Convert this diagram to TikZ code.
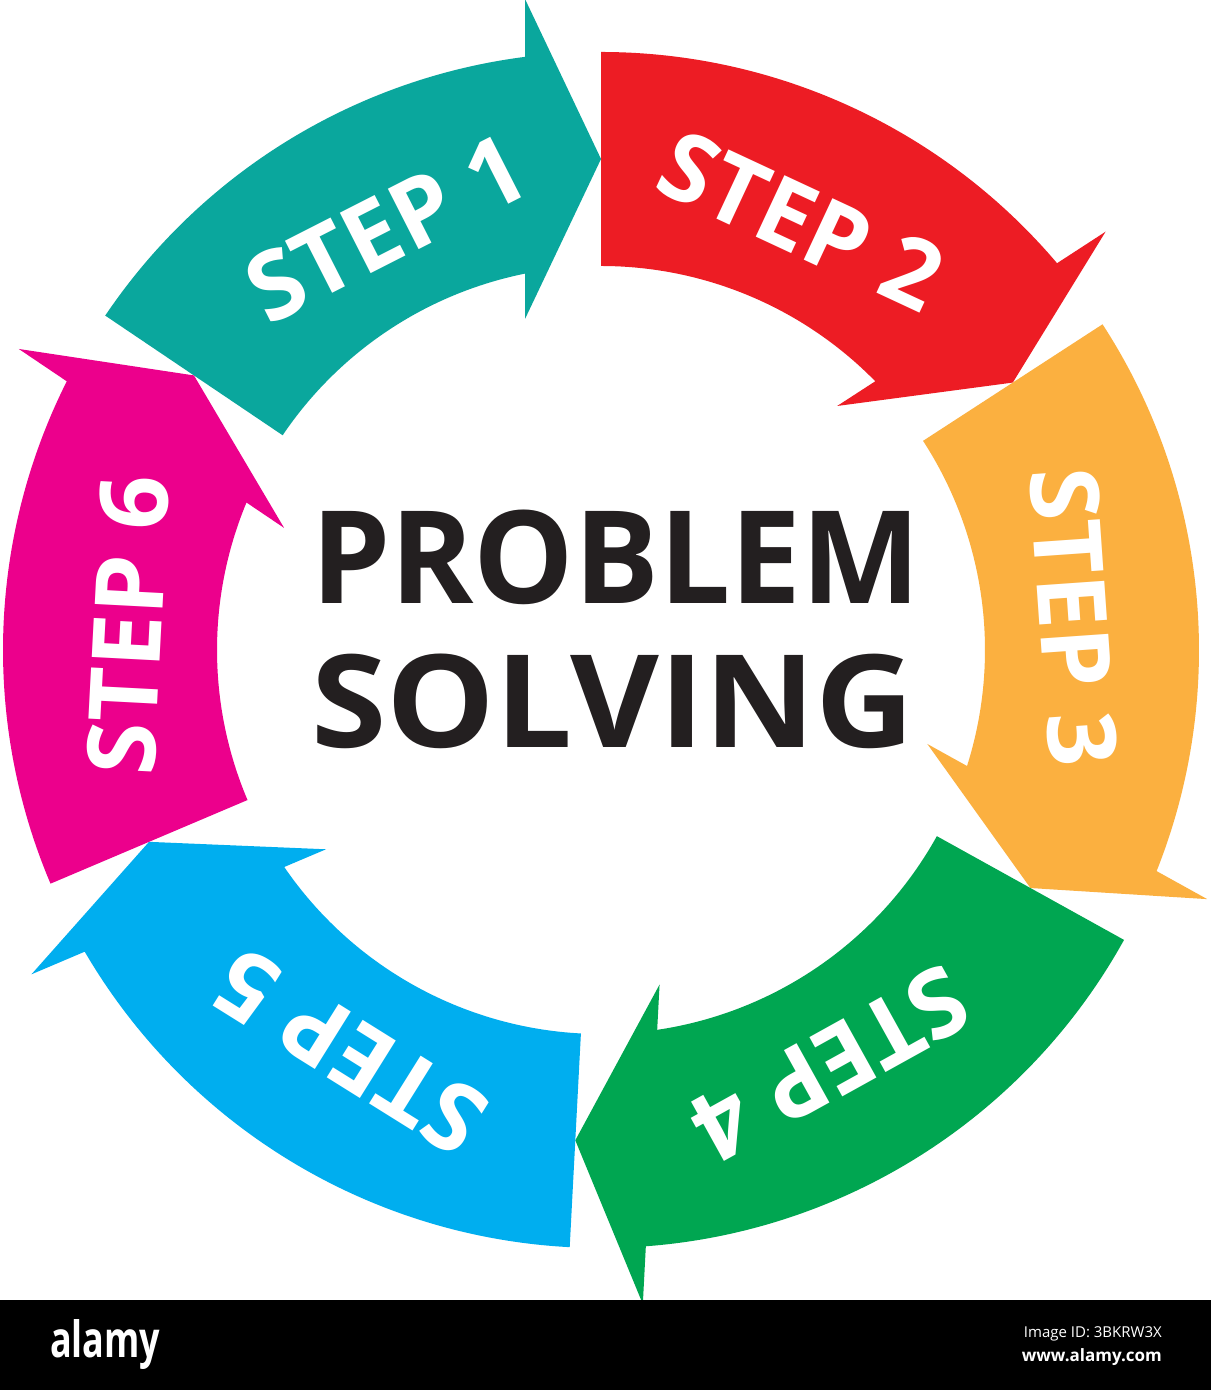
\documentclass[tikz,border=0pt]{standalone}
\usepackage{fontspec}
\setmainfont{Open Sans}
\usetikzlibrary{calc}
\definecolor{stepone}{HTML}{0AA79D}
\definecolor{steptwo}{HTML}{ED1C24}
\definecolor{stepthree}{HTML}{FBB040}
\definecolor{stepfour}{HTML}{00A651}
\definecolor{stepfive}{HTML}{00AEEF}
\definecolor{stepsix}{HTML}{EC008C}
\definecolor{titleblack}{HTML}{231F20}
\tikzset{
  steplabel/.style={white,inner sep=0pt,text depth=0pt,font=\fontsize{95}{95}\selectfont\bfseries},
  titletext/.style={titleblack,inner sep=0pt,anchor=base,transform shape,font=\fontsize{129}{129}\selectfont\bfseries},
}
\begin{document}
\begin{tikzpicture}[x=1pt,y=1pt]
	\useasboundingbox (0,0) rectangle (1211,1390);
	\fill[white] (0,0) rectangle (1211,1390);
	\coordinate (ctr) at (601,740);
	% n / tail angle / tip angle / label angle / colour
	\foreach \n/\a/\b/\t/\c in {1/146/90/117/stepone,2/90/33/65/steptwo,3/33/-29/4/stepthree,
		4/-29/-93/-61/stepfour,5/-93/-157/-122/stepfive,6/203/146/177/stepsix}
	{
	\begin{scope}[shift={(ctr)},rotate=\b]
		\fill[\c] ({\a-\b}:598) arc[start angle={\a-\b},end angle={asin(76/598)},radius=598]
			-- (651,76) -- (491,0) -- (331,76) -- ({asin(76/384)}:384)
			arc[start angle={asin(76/384)},end angle={\a-\b},radius=384] -- cycle;
	\end{scope}
	\node[steplabel,rotate=\t-90] (step\n) at ($(ctr)+(\t:474)$) {STEP \n};
	}
	\node[titletext,xscale=0.98] (problem) at (616,786) {PROBLEM};
	\node[titletext,xscale=1.06] (solving) at (613,642) {SOLVING};
	% bottom bar
	\fill[black] (0,0) rectangle (1211,90);
	\node[white,anchor=base west,inner sep=0pt,xscale=0.72,transform shape,font=\fontsize{50}{50}\selectfont\bfseries] (logo) at (50,32) {alamy};
	\node[white,anchor=base east,inner sep=0pt,font=\fontsize{15}{15}\selectfont] (imageid) at (1162,52) {Image ID: 3BKRW3X};
	\node[white,anchor=base east,inner sep=0pt,font=\fontsize{17}{17}\selectfont\bfseries] (website) at (1162,28) {www.alamy.com};
\end{tikzpicture}
\end{document}
